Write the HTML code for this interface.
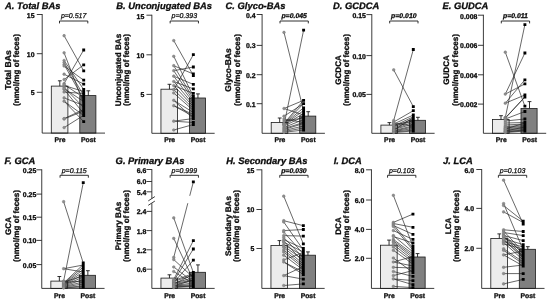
<!DOCTYPE html>
<html lang="en">
<head>
<meta charset="utf-8">
<title>Fecal bile acids Pre vs Post</title>
<style>
html,body{margin:0;padding:0;background:#fff;}
body{width:550px;height:302px;overflow:hidden;}
svg{display:block;}
text{font-family:"Liberation Sans",Arial,Helvetica,sans-serif;fill:#0d0d0d;stroke:#0d0d0d;stroke-width:0.3px;text-rendering:geometricPrecision;}
.ti{font-size:9.4px;font-weight:bold;font-style:italic;}
.yl{font-size:8.1px;font-weight:bold;text-anchor:middle;}
.tk{font-size:6.9px;font-weight:bold;text-anchor:end;}
.xl{font-size:6.8px;font-weight:bold;text-anchor:middle;}
.pv{font-size:7.0px;font-style:italic;text-anchor:middle;stroke-width:0.25px;}
.pvb{font-size:6.9px;font-style:italic;font-weight:bold;text-anchor:middle;}
.axl{fill:none;stroke:#1a1a1a;stroke-width:0.85;}
.ln{fill:none;stroke:#1a1a1a;stroke-width:0.9;}
.cl{fill:none;stroke:#222;stroke-width:0.68;}
.b1{fill:#ececec;stroke:#1a1a1a;stroke-width:0.8;}
.b2{fill:#808080;stroke:#1a1a1a;stroke-width:0.8;}
.gp{fill:#8e8e8e;stroke:#777;stroke-width:0.45;}
.kp{fill:#000;}
</style>
</head>
<body>
<svg width="550" height="302" viewBox="0 0 550 302" role="img" aria-label="Fecal bile acids before and after intervention">
<rect width="550" height="302" fill="#fff"/>
<g>
<text class="ti" x="5.1" y="9">A. Total BAs</text>
<text class="yl" style="font-size:8.6px" transform="translate(10.7 70) rotate(-90)">Total BAs</text>
<text class="yl" transform="translate(19.3 70) rotate(-90)">(nmol/mg of feces)</text>
<rect class="b1" x="51.3" y="86.1" width="16.6" height="47"/>
<rect class="b2" x="79.8" y="95.6" width="16.1" height="37.5"/>
<path class="ln" d="M59.8 86.1V80.8M57.9 80.8H61.7"/>
<path class="ln" d="M88.3 95.6V90.8M86.4 90.8H90.2"/>
<path class="axl" d="M42.2 14.05V133.1H105"/>
<path class="axl" d="M36.8 14.5H42.2M36.8 53.7H42.2M36.8 92.3H42.2"/>
<text class="tk" x="34.5" y="17.9">15</text>
<text class="tk" x="34.5" y="56.6">10</text>
<text class="tk" x="34.5" y="95.2">5</text>
<text class="xl" x="60" y="142.2">Pre</text>
<text class="xl" x="88.4" y="142.2">Post</text>
<path class="cl" d="M64.1 35.7L83.7 70.9M64.1 52.8L83.7 103.5M64.1 83.5L83.7 50M64.1 79.5L83.7 64.8M64.1 60.5L83.7 89.5M64.1 62.5L83.7 95.5M64.1 64.5L83.7 99.5M64.1 66L83.7 80.2M64.1 74.2L83.7 84.1M64.1 85.5L83.7 91.5M64.1 87.5L83.7 107.5M64.1 89.5L83.7 113.5M64.1 84.6L83.7 97.5M64.1 88.6L83.7 101.5M64.1 92L83.7 93.5M64.1 97.9L83.7 105.5M64.1 101.2L83.7 115.5M64.1 119L83.7 111M64.1 118.6L83.7 109.5M64.1 127.6L83.7 115.3M64.1 101.2L83.7 121.6"/>
<circle class="gp" cx="64.1" cy="35.7" r="1.35"/>
<circle class="gp" cx="64.1" cy="52.8" r="1.35"/>
<circle class="gp" cx="64.1" cy="83.5" r="1.35"/>
<circle class="gp" cx="64.1" cy="79.5" r="1.35"/>
<circle class="gp" cx="64.1" cy="60.5" r="1.35"/>
<circle class="gp" cx="64.1" cy="62.5" r="1.35"/>
<circle class="gp" cx="64.1" cy="64.5" r="1.35"/>
<circle class="gp" cx="64.1" cy="66" r="1.35"/>
<circle class="gp" cx="64.1" cy="74.2" r="1.35"/>
<circle class="gp" cx="64.1" cy="85.5" r="1.35"/>
<circle class="gp" cx="64.1" cy="87.5" r="1.35"/>
<circle class="gp" cx="64.1" cy="89.5" r="1.35"/>
<circle class="gp" cx="64.1" cy="84.6" r="1.35"/>
<circle class="gp" cx="64.1" cy="88.6" r="1.35"/>
<circle class="gp" cx="64.1" cy="92" r="1.35"/>
<circle class="gp" cx="64.1" cy="97.9" r="1.35"/>
<circle class="gp" cx="64.1" cy="101.2" r="1.35"/>
<circle class="gp" cx="64.1" cy="119" r="1.35"/>
<circle class="gp" cx="64.1" cy="118.6" r="1.35"/>
<circle class="gp" cx="64.1" cy="127.6" r="1.35"/>
<path class="kp" d="M82.25 69.5h2.9v2.8h-2.9zM82.25 102.1h2.9v2.8h-2.9zM82.25 48.6h2.9v2.8h-2.9zM82.25 63.4h2.9v2.8h-2.9zM82.25 88.1h2.9v2.8h-2.9zM82.25 94.1h2.9v2.8h-2.9zM82.25 98.1h2.9v2.8h-2.9zM82.25 78.8h2.9v2.8h-2.9zM82.25 82.7h2.9v2.8h-2.9zM82.25 90.1h2.9v2.8h-2.9zM82.25 106.1h2.9v2.8h-2.9zM82.25 112.1h2.9v2.8h-2.9zM82.25 96.1h2.9v2.8h-2.9zM82.25 100.1h2.9v2.8h-2.9zM82.25 92.1h2.9v2.8h-2.9zM82.25 104.1h2.9v2.8h-2.9zM82.25 114.1h2.9v2.8h-2.9zM82.25 109.6h2.9v2.8h-2.9zM82.25 108.1h2.9v2.8h-2.9zM82.25 113.9h2.9v2.8h-2.9zM82.25 120.2h2.9v2.8h-2.9z"/>
<path class="ln" d="M59.5 23.4V21H87.8V23.4"/>
<text class="pv" x="73.65" y="18">p=0.517</text>
</g>
<g>
<text class="ti" x="116.2" y="9">B. Unconjugated BAs</text>
<text class="yl" transform="translate(120.7 70) rotate(-90)">Unconjugated BAs</text>
<text class="yl" transform="translate(129.3 70) rotate(-90)">(nmol/mg of feces)</text>
<rect class="b1" x="160.95" y="89.2" width="16.6" height="44.1"/>
<rect class="b2" x="189.45" y="98" width="16.1" height="35.3"/>
<path class="ln" d="M169.45 89.2V84.3M167.55 84.3H171.35"/>
<path class="ln" d="M197.95 98V93.9M196.05 93.9H199.85"/>
<path class="axl" d="M151.85 14.75V133.3H214.65"/>
<path class="axl" d="M146.45 15.2H151.85M146.45 54.8H151.85M146.45 94.4H151.85"/>
<text class="tk" x="144.25" y="18.6">15</text>
<text class="tk" x="144.25" y="57.7">10</text>
<text class="tk" x="144.25" y="97.3">5</text>
<text class="xl" x="169.65" y="142.4">Pre</text>
<text class="xl" x="198.05" y="142.4">Post</text>
<path class="cl" d="M173.75 40.6L193.35 75.5M173.75 89.7L193.35 54.7M173.75 56.3L193.35 96.4M173.75 65.7L193.35 74M173.75 65.7L193.35 98.5M173.75 70.7L193.35 67M173.75 70.7L193.35 100.5M173.75 76.2L193.35 102.5M173.75 76.2L193.35 84.4M173.75 81.5L193.35 104.5M173.75 81.5L193.35 88.9M173.75 85.6L193.35 106.5M173.75 85.6L193.35 93.4M173.75 89.7L193.35 108.5M173.75 93L193.35 110.5M173.75 100.3L193.35 112.5M173.75 105.7L193.35 114.5M173.75 105.7L193.35 116.5M173.75 100.3L193.35 118.5M173.75 121.2L193.35 122.5M173.75 121.2L193.35 118.5M173.75 130L193.35 124.5"/>
<circle class="gp" cx="173.75" cy="40.6" r="1.35"/>
<circle class="gp" cx="173.75" cy="89.7" r="1.35"/>
<circle class="gp" cx="173.75" cy="56.3" r="1.35"/>
<circle class="gp" cx="173.75" cy="65.7" r="1.35"/>
<circle class="gp" cx="173.75" cy="70.7" r="1.35"/>
<circle class="gp" cx="173.75" cy="76.2" r="1.35"/>
<circle class="gp" cx="173.75" cy="81.5" r="1.35"/>
<circle class="gp" cx="173.75" cy="85.6" r="1.35"/>
<circle class="gp" cx="173.75" cy="93" r="1.35"/>
<circle class="gp" cx="173.75" cy="100.3" r="1.35"/>
<circle class="gp" cx="173.75" cy="105.7" r="1.35"/>
<circle class="gp" cx="173.75" cy="121.2" r="1.35"/>
<circle class="gp" cx="173.75" cy="130" r="1.35"/>
<path class="kp" d="M191.9 74.1h2.9v2.8h-2.9zM191.9 53.3h2.9v2.8h-2.9zM191.9 95h2.9v2.8h-2.9zM191.9 72.6h2.9v2.8h-2.9zM191.9 97.1h2.9v2.8h-2.9zM191.9 65.6h2.9v2.8h-2.9zM191.9 99.1h2.9v2.8h-2.9zM191.9 101.1h2.9v2.8h-2.9zM191.9 83h2.9v2.8h-2.9zM191.9 103.1h2.9v2.8h-2.9zM191.9 87.5h2.9v2.8h-2.9zM191.9 105.1h2.9v2.8h-2.9zM191.9 92h2.9v2.8h-2.9zM191.9 107.1h2.9v2.8h-2.9zM191.9 109.1h2.9v2.8h-2.9zM191.9 111.1h2.9v2.8h-2.9zM191.9 113.1h2.9v2.8h-2.9zM191.9 115.1h2.9v2.8h-2.9zM191.9 117.1h2.9v2.8h-2.9zM191.9 121.1h2.9v2.8h-2.9zM191.9 123.1h2.9v2.8h-2.9z"/>
<path class="ln" d="M170.15 23.4V21H198.45V23.4"/>
<text class="pv" x="184.3" y="18">p=0.393</text>
</g>
<g>
<text class="ti" x="225.6" y="9">C. Glyco-BAs</text>
<text class="yl" style="font-size:8.5px" transform="translate(231.2 70) rotate(-90)">Glyco-BAs</text>
<text class="yl" transform="translate(239.8 70) rotate(-90)">(nmol/mg of feces)</text>
<rect class="b1" x="271.2" y="122.4" width="16.6" height="10.9"/>
<rect class="b2" x="299.7" y="116.1" width="16.1" height="17.2"/>
<path class="ln" d="M279.7 122.4V118M277.8 118H281.6"/>
<path class="ln" d="M308.2 116.1V111.7M306.3 111.7H310.1"/>
<path class="axl" d="M262.1 14.05V133.3H324.9"/>
<path class="axl" d="M256.7 14.5H262.1M256.7 45.4H262.1M256.7 74.7H262.1M256.7 103.7H262.1"/>
<text class="tk" x="255.5" y="17.9">0.4</text>
<text class="tk" x="255.5" y="48.3">0.3</text>
<text class="tk" x="255.5" y="77.6">0.2</text>
<text class="tk" x="255.5" y="106.6">0.1</text>
<text class="xl" x="279.9" y="142.4">Pre</text>
<text class="xl" x="308.3" y="142.4">Post</text>
<path class="cl" d="M284 32.4L303.6 110.6M284 125L303.6 30.2M284 108.5L303.6 100.3M284 108.5L303.6 115M284 116.2L303.6 103.6M284 123.5L303.6 100.3M284 123.8L303.6 103.6M284 124L303.6 107.8M284 124.5L303.6 110.6M284 125L303.6 113.5M284 126L303.6 116.5M284 127.5L303.6 119.5M284 128.5L303.6 122.5M284 129.5L303.6 123.5M284 130.5L303.6 126M284 131.5L303.6 128M284 132.3L303.6 130M284 121L303.6 118M284 119L303.6 122.5"/>
<circle class="gp" cx="284" cy="32.4" r="1.35"/>
<circle class="gp" cx="284" cy="125" r="1.35"/>
<circle class="gp" cx="284" cy="108.5" r="1.35"/>
<circle class="gp" cx="284" cy="116.2" r="1.35"/>
<circle class="gp" cx="284" cy="123.5" r="1.35"/>
<circle class="gp" cx="284" cy="123.8" r="1.35"/>
<circle class="gp" cx="284" cy="124" r="1.35"/>
<circle class="gp" cx="284" cy="124.5" r="1.35"/>
<circle class="gp" cx="284" cy="126" r="1.35"/>
<circle class="gp" cx="284" cy="127.5" r="1.35"/>
<circle class="gp" cx="284" cy="128.5" r="1.35"/>
<circle class="gp" cx="284" cy="129.5" r="1.35"/>
<circle class="gp" cx="284" cy="130.5" r="1.35"/>
<circle class="gp" cx="284" cy="131.5" r="1.35"/>
<circle class="gp" cx="284" cy="132.3" r="1.35"/>
<circle class="gp" cx="284" cy="121" r="1.35"/>
<circle class="gp" cx="284" cy="119" r="1.35"/>
<path class="kp" d="M302.15 109.2h2.9v2.8h-2.9zM302.15 28.8h2.9v2.8h-2.9zM302.15 98.9h2.9v2.8h-2.9zM302.15 113.6h2.9v2.8h-2.9zM302.15 102.2h2.9v2.8h-2.9zM302.15 106.4h2.9v2.8h-2.9zM302.15 112.1h2.9v2.8h-2.9zM302.15 115.1h2.9v2.8h-2.9zM302.15 118.1h2.9v2.8h-2.9zM302.15 121.1h2.9v2.8h-2.9zM302.15 122.1h2.9v2.8h-2.9zM302.15 124.6h2.9v2.8h-2.9zM302.15 126.6h2.9v2.8h-2.9zM302.15 128.6h2.9v2.8h-2.9zM302.15 116.6h2.9v2.8h-2.9z"/>
<path class="ln" d="M280 23.4V21H308.3V23.4"/>
<text class="pvb" x="294.15" y="18">p=0.045</text>
</g>
<g>
<text class="ti" x="333" y="9">D. GCDCA</text>
<text class="yl" transform="translate(340.7 70) rotate(-90)">GCDCA</text>
<text class="yl" transform="translate(349.3 70) rotate(-90)">(nmol/mg of feces)</text>
<rect class="b1" x="380.9" y="125.1" width="16.6" height="8.2"/>
<rect class="b2" x="409.4" y="120.3" width="16.1" height="13"/>
<path class="ln" d="M389.4 125.1V122.6M387.5 122.6H391.3"/>
<path class="ln" d="M417.9 120.3V117.3M416 117.3H419.8"/>
<path class="axl" d="M371.8 14.15V133.3H434.6"/>
<path class="axl" d="M366.4 14.6H371.8M366.4 55.6H371.8M366.4 94.4H371.8"/>
<text class="tk" x="365.9" y="18">0.15</text>
<text class="tk" x="365.9" y="58.5">0.10</text>
<text class="tk" x="365.9" y="97.3">0.05</text>
<text class="xl" x="389.6" y="142.4">Pre</text>
<text class="xl" x="418" y="142.4">Post</text>
<path class="cl" d="M393.7 69.9L413.3 106.6M393.7 120.5L413.3 49.5M393.7 122L413.3 110.7M393.7 124L413.3 115M393.7 126L413.3 116.8M393.7 127L413.3 118.6M393.7 128L413.3 120.4M393.7 129L413.3 122.2M393.7 129.5L413.3 124M393.7 130.5L413.3 125.8M393.7 131L413.3 127M393.7 131.5L413.3 128.5M393.7 132L413.3 130M393.7 132.5L413.3 131M393.7 125L413.3 121M393.7 123L413.3 126M393.7 130.2L413.3 117.5"/>
<circle class="gp" cx="393.7" cy="69.9" r="1.35"/>
<circle class="gp" cx="393.7" cy="120.5" r="1.35"/>
<circle class="gp" cx="393.7" cy="122" r="1.35"/>
<circle class="gp" cx="393.7" cy="124" r="1.35"/>
<circle class="gp" cx="393.7" cy="126" r="1.35"/>
<circle class="gp" cx="393.7" cy="127" r="1.35"/>
<circle class="gp" cx="393.7" cy="128" r="1.35"/>
<circle class="gp" cx="393.7" cy="129" r="1.35"/>
<circle class="gp" cx="393.7" cy="129.5" r="1.35"/>
<circle class="gp" cx="393.7" cy="130.5" r="1.35"/>
<circle class="gp" cx="393.7" cy="131" r="1.35"/>
<circle class="gp" cx="393.7" cy="131.5" r="1.35"/>
<circle class="gp" cx="393.7" cy="132" r="1.35"/>
<circle class="gp" cx="393.7" cy="132.5" r="1.35"/>
<circle class="gp" cx="393.7" cy="125" r="1.35"/>
<circle class="gp" cx="393.7" cy="123" r="1.35"/>
<circle class="gp" cx="393.7" cy="130.2" r="1.35"/>
<path class="kp" d="M411.85 105.2h2.9v2.8h-2.9zM411.85 48.1h2.9v2.8h-2.9zM411.85 109.3h2.9v2.8h-2.9zM411.85 113.6h2.9v2.8h-2.9zM411.85 115.4h2.9v2.8h-2.9zM411.85 117.2h2.9v2.8h-2.9zM411.85 119h2.9v2.8h-2.9zM411.85 120.8h2.9v2.8h-2.9zM411.85 122.6h2.9v2.8h-2.9zM411.85 124.4h2.9v2.8h-2.9zM411.85 125.6h2.9v2.8h-2.9zM411.85 127.1h2.9v2.8h-2.9zM411.85 128.6h2.9v2.8h-2.9zM411.85 129.6h2.9v2.8h-2.9zM411.85 119.6h2.9v2.8h-2.9zM411.85 124.6h2.9v2.8h-2.9zM411.85 116.1h2.9v2.8h-2.9z"/>
<path class="ln" d="M389.7 23.4V21H418V23.4"/>
<text class="pvb" x="403.85" y="18">p=0.010</text>
</g>
<g>
<text class="ti" x="442.5" y="9">E. GUDCA</text>
<text class="yl" transform="translate(449.2 70) rotate(-90)">GUDCA</text>
<text class="yl" transform="translate(457.8 70) rotate(-90)">(nmol/mg of feces)</text>
<rect class="b1" x="492.5" y="119.5" width="16.6" height="13.8"/>
<rect class="b2" x="521" y="108.5" width="16.1" height="24.8"/>
<path class="ln" d="M501 119.5V115.7M499.1 115.7H502.9"/>
<path class="ln" d="M529.5 108.5V101.6M527.6 101.6H531.4"/>
<path class="axl" d="M483.4 14.75V133.3H546.2"/>
<path class="axl" d="M478 15.2H483.4M478 45.3H483.4M478 74.8H483.4M478 104.1H483.4"/>
<text class="tk" x="477.3" y="18.6">0.008</text>
<text class="tk" x="477.3" y="48.2">0.006</text>
<text class="tk" x="477.3" y="77.7">0.004</text>
<text class="tk" x="477.3" y="107">0.002</text>
<text class="xl" x="501.2" y="142.4">Pre</text>
<text class="xl" x="529.6" y="142.4">Post</text>
<path class="cl" d="M505.3 52.2L524.9 106.2M505.3 117.5L524.9 24.6M505.3 94.1L524.9 53M505.3 94.1L524.9 83.9M505.3 103.2L524.9 79.8M505.3 103.2L524.9 95M505.3 117.8L524.9 97.2M505.3 118.3L524.9 96.8M505.3 119L524.9 111.5M505.3 121L524.9 119M505.3 123L524.9 122.5M505.3 125L524.9 124M505.3 126.5L524.9 125.5M505.3 127.5L524.9 126.5M505.3 128.5L524.9 127.5M505.3 129.5L524.9 128.5M505.3 130.5L524.9 129.5M505.3 131.5L524.9 130M505.3 132L524.9 130.5M505.3 132.5L524.9 131M505.3 129L524.9 123M505.3 131L524.9 127"/>
<circle class="gp" cx="505.3" cy="52.2" r="1.35"/>
<circle class="gp" cx="505.3" cy="117.5" r="1.35"/>
<circle class="gp" cx="505.3" cy="94.1" r="1.35"/>
<circle class="gp" cx="505.3" cy="103.2" r="1.35"/>
<circle class="gp" cx="505.3" cy="117.8" r="1.35"/>
<circle class="gp" cx="505.3" cy="118.3" r="1.35"/>
<circle class="gp" cx="505.3" cy="119" r="1.35"/>
<circle class="gp" cx="505.3" cy="121" r="1.35"/>
<circle class="gp" cx="505.3" cy="123" r="1.35"/>
<circle class="gp" cx="505.3" cy="125" r="1.35"/>
<circle class="gp" cx="505.3" cy="126.5" r="1.35"/>
<circle class="gp" cx="505.3" cy="127.5" r="1.35"/>
<circle class="gp" cx="505.3" cy="128.5" r="1.35"/>
<circle class="gp" cx="505.3" cy="129.5" r="1.35"/>
<circle class="gp" cx="505.3" cy="130.5" r="1.35"/>
<circle class="gp" cx="505.3" cy="131.5" r="1.35"/>
<circle class="gp" cx="505.3" cy="132" r="1.35"/>
<circle class="gp" cx="505.3" cy="132.5" r="1.35"/>
<circle class="gp" cx="505.3" cy="129" r="1.35"/>
<circle class="gp" cx="505.3" cy="131" r="1.35"/>
<path class="kp" d="M523.45 104.8h2.9v2.8h-2.9zM523.45 23.2h2.9v2.8h-2.9zM523.45 51.6h2.9v2.8h-2.9zM523.45 82.5h2.9v2.8h-2.9zM523.45 78.4h2.9v2.8h-2.9zM523.45 93.6h2.9v2.8h-2.9zM523.45 95.8h2.9v2.8h-2.9zM523.45 95.4h2.9v2.8h-2.9zM523.45 110.1h2.9v2.8h-2.9zM523.45 117.6h2.9v2.8h-2.9zM523.45 121.1h2.9v2.8h-2.9zM523.45 122.6h2.9v2.8h-2.9zM523.45 124.1h2.9v2.8h-2.9zM523.45 125.1h2.9v2.8h-2.9zM523.45 126.1h2.9v2.8h-2.9zM523.45 127.1h2.9v2.8h-2.9zM523.45 128.1h2.9v2.8h-2.9zM523.45 128.6h2.9v2.8h-2.9zM523.45 129.1h2.9v2.8h-2.9zM523.45 129.6h2.9v2.8h-2.9zM523.45 121.6h2.9v2.8h-2.9zM523.45 125.6h2.9v2.8h-2.9z"/>
<path class="ln" d="M501.3 23.4V21H529.6V23.4"/>
<text class="pvb" x="515.45" y="18">p=0.011</text>
</g>
<g>
<text class="ti" x="4.6" y="164">F. GCA</text>
<text class="yl" transform="translate(10.7 226) rotate(-90)">GCA</text>
<text class="yl" transform="translate(19.3 226) rotate(-90)">(nmol/mg of feces)</text>
<rect class="b1" x="50.85" y="281.1" width="16.6" height="7.3"/>
<rect class="b2" x="79.35" y="275.3" width="16.1" height="13.1"/>
<path class="ln" d="M59.35 281.1V276.5M57.45 276.5H61.25"/>
<path class="ln" d="M87.85 275.3V270.7M85.95 270.7H89.75"/>
<path class="axl" d="M41.75 169.35V288.4H104.55"/>
<path class="axl" d="M36.35 169.8H41.75M36.35 194.1H41.75M36.35 217.2H41.75M36.35 240.4H41.75M36.35 264.6H41.75"/>
<text class="tk" x="36.25" y="173.2">0.25</text>
<text class="tk" x="36.25" y="197">0.25</text>
<text class="tk" x="36.25" y="220.1">0.15</text>
<text class="tk" x="36.25" y="243.3">0.10</text>
<text class="tk" x="36.25" y="267.5">0.05</text>
<text class="xl" x="59.55" y="297.5">Pre</text>
<text class="xl" x="87.95" y="297.5">Post</text>
<path class="cl" d="M63.65 201.7L83.25 263M63.65 281L83.25 182.7M63.65 268.7L83.25 265M63.65 268.7L83.25 272M63.65 283L83.25 264.5M63.65 283.5L83.25 267M63.65 284L83.25 269.5M63.65 284.5L83.25 272M63.65 285L83.25 274.5M63.65 285.5L83.25 277M63.65 286L83.25 279.5M63.65 286.5L83.25 282M63.65 287L83.25 284M63.65 287.5L83.25 286M63.65 287.8L83.25 287M63.65 282L83.25 276M63.65 282.5L83.25 281"/>
<circle class="gp" cx="63.65" cy="201.7" r="1.35"/>
<circle class="gp" cx="63.65" cy="281" r="1.35"/>
<circle class="gp" cx="63.65" cy="268.7" r="1.35"/>
<circle class="gp" cx="63.65" cy="283" r="1.35"/>
<circle class="gp" cx="63.65" cy="283.5" r="1.35"/>
<circle class="gp" cx="63.65" cy="284" r="1.35"/>
<circle class="gp" cx="63.65" cy="284.5" r="1.35"/>
<circle class="gp" cx="63.65" cy="285" r="1.35"/>
<circle class="gp" cx="63.65" cy="285.5" r="1.35"/>
<circle class="gp" cx="63.65" cy="286" r="1.35"/>
<circle class="gp" cx="63.65" cy="286.5" r="1.35"/>
<circle class="gp" cx="63.65" cy="287" r="1.35"/>
<circle class="gp" cx="63.65" cy="287.5" r="1.35"/>
<circle class="gp" cx="63.65" cy="287.8" r="1.35"/>
<circle class="gp" cx="63.65" cy="282" r="1.35"/>
<circle class="gp" cx="63.65" cy="282.5" r="1.35"/>
<path class="kp" d="M81.8 261.6h2.9v2.8h-2.9zM81.8 181.3h2.9v2.8h-2.9zM81.8 263.6h2.9v2.8h-2.9zM81.8 270.6h2.9v2.8h-2.9zM81.8 263.1h2.9v2.8h-2.9zM81.8 265.6h2.9v2.8h-2.9zM81.8 268.1h2.9v2.8h-2.9zM81.8 273.1h2.9v2.8h-2.9zM81.8 275.6h2.9v2.8h-2.9zM81.8 278.1h2.9v2.8h-2.9zM81.8 280.6h2.9v2.8h-2.9zM81.8 282.6h2.9v2.8h-2.9zM81.8 284.6h2.9v2.8h-2.9zM81.8 285.6h2.9v2.8h-2.9zM81.8 274.6h2.9v2.8h-2.9zM81.8 279.6h2.9v2.8h-2.9z"/>
<path class="ln" d="M60.05 177.7V175.3H88.35V177.7"/>
<text class="pv" x="74.2" y="173">p=0.115</text>
</g>
<g>
<text class="ti" x="115.6" y="164">G. Primary BAs</text>
<text class="yl" transform="translate(120.7 226) rotate(-90)">Primary BAs</text>
<text class="yl" transform="translate(129.3 226) rotate(-90)">(nmol/mg of feces)</text>
<rect class="b1" x="160.95" y="278.1" width="16.6" height="10.3"/>
<rect class="b2" x="189.45" y="272.3" width="16.1" height="16.1"/>
<path class="ln" d="M169.45 278.1V274.8M167.55 274.8H171.35"/>
<path class="ln" d="M197.95 272.3V264.9M196.05 264.9H199.85"/>
<path class="axl" d="M151.85 169.1V198.6M151.85 203.3V288.4H214.65"/>
<path class="axl" d="M148.25 200.9L154.85 196.6M148.25 205.3L154.85 201.1"/>
<path class="axl" d="M146.45 169.5H151.85M146.45 181.5H151.85M146.45 191.8H151.85M146.45 211.4H151.85M146.45 230.6H151.85M146.45 249.8H151.85M146.45 269.2H151.85"/>
<text class="tk" x="146.35" y="172.9">6.6</text>
<text class="tk" x="146.35" y="184.4">6.0</text>
<text class="tk" x="146.35" y="194.7">5.4</text>
<text class="tk" x="146.35" y="214.3">2.4</text>
<text class="tk" x="146.35" y="233.5">1.8</text>
<text class="tk" x="146.35" y="252.7">1.2</text>
<text class="tk" x="146.35" y="272.1">0.6</text>
<text class="xl" x="169.65" y="297.5">Pre</text>
<text class="xl" x="198.05" y="297.5">Post</text>
<path class="cl" d="M173.75 257.4L187.82 203.2M189.74 195.8L193.35 181.9M173.75 217.9L193.35 272.5M173.75 238.4L193.35 280M173.75 279.5L193.35 240.6M173.75 281L193.35 249M173.75 282.5L193.35 260.2M173.75 259.6L193.35 277.5M173.75 267L193.35 282M173.75 271.5L193.35 284M173.75 280.5L193.35 273.5M173.75 281.5L193.35 275M173.75 283L193.35 278M173.75 283.5L193.35 280M173.75 284.5L193.35 281M173.75 285.5L193.35 283M173.75 286L193.35 284.5M173.75 286.5L193.35 285.5M173.75 287L193.35 286M173.75 287.5L193.35 286.5M173.75 284L193.35 274.5M173.75 286.2L193.35 279.5"/>
<circle class="gp" cx="173.75" cy="257.4" r="1.35"/>
<circle class="gp" cx="173.75" cy="217.9" r="1.35"/>
<circle class="gp" cx="173.75" cy="238.4" r="1.35"/>
<circle class="gp" cx="173.75" cy="279.5" r="1.35"/>
<circle class="gp" cx="173.75" cy="281" r="1.35"/>
<circle class="gp" cx="173.75" cy="282.5" r="1.35"/>
<circle class="gp" cx="173.75" cy="259.6" r="1.35"/>
<circle class="gp" cx="173.75" cy="267" r="1.35"/>
<circle class="gp" cx="173.75" cy="271.5" r="1.35"/>
<circle class="gp" cx="173.75" cy="280.5" r="1.35"/>
<circle class="gp" cx="173.75" cy="281.5" r="1.35"/>
<circle class="gp" cx="173.75" cy="283" r="1.35"/>
<circle class="gp" cx="173.75" cy="283.5" r="1.35"/>
<circle class="gp" cx="173.75" cy="284.5" r="1.35"/>
<circle class="gp" cx="173.75" cy="285.5" r="1.35"/>
<circle class="gp" cx="173.75" cy="286" r="1.35"/>
<circle class="gp" cx="173.75" cy="286.5" r="1.35"/>
<circle class="gp" cx="173.75" cy="287" r="1.35"/>
<circle class="gp" cx="173.75" cy="287.5" r="1.35"/>
<circle class="gp" cx="173.75" cy="284" r="1.35"/>
<circle class="gp" cx="173.75" cy="286.2" r="1.35"/>
<path class="kp" d="M191.9 180.5h2.9v2.8h-2.9zM191.9 271.1h2.9v2.8h-2.9zM191.9 278.6h2.9v2.8h-2.9zM191.9 239.2h2.9v2.8h-2.9zM191.9 247.6h2.9v2.8h-2.9zM191.9 258.8h2.9v2.8h-2.9zM191.9 276.1h2.9v2.8h-2.9zM191.9 280.6h2.9v2.8h-2.9zM191.9 282.6h2.9v2.8h-2.9zM191.9 272.1h2.9v2.8h-2.9zM191.9 273.6h2.9v2.8h-2.9zM191.9 276.6h2.9v2.8h-2.9zM191.9 279.6h2.9v2.8h-2.9zM191.9 281.6h2.9v2.8h-2.9zM191.9 283.1h2.9v2.8h-2.9zM191.9 284.1h2.9v2.8h-2.9zM191.9 284.6h2.9v2.8h-2.9zM191.9 285.1h2.9v2.8h-2.9zM191.9 273.1h2.9v2.8h-2.9zM191.9 278.1h2.9v2.8h-2.9z"/>
<path class="ln" d="M170.15 177.7V175.3H198.45V177.7"/>
<text class="pv" x="184.3" y="173">p=0.999</text>
</g>
<g>
<text class="ti" x="226.2" y="164">H. Secondary BAs</text>
<text class="yl" transform="translate(230.7 226) rotate(-90)">Secondary BAs</text>
<text class="yl" transform="translate(239.3 226) rotate(-90)">(nmol/mg of feces)</text>
<rect class="b1" x="270.95" y="245.4" width="16.6" height="43"/>
<rect class="b2" x="299.45" y="255.2" width="16.1" height="33.2"/>
<path class="ln" d="M279.45 245.4V240.6M277.55 240.6H281.35"/>
<path class="ln" d="M307.95 255.2V251.9M306.05 251.9H309.85"/>
<path class="axl" d="M261.85 169.35V288.4H324.65"/>
<path class="axl" d="M256.45 169.8H261.85M256.45 209.5H261.85M256.45 248.5H261.85"/>
<text class="tk" x="254.45" y="173.2">15</text>
<text class="tk" x="254.45" y="212.4">10</text>
<text class="tk" x="254.45" y="251.4">5</text>
<text class="xl" x="279.65" y="297.5">Pre</text>
<text class="xl" x="308.05" y="297.5">Post</text>
<path class="cl" d="M283.75 196.2L303.35 243.9M283.75 220.7L303.35 225.7M283.75 222L303.35 250M283.75 230.6L303.35 229.5M283.75 232L303.35 254M283.75 235.6L303.35 236.1M283.75 237.5L303.35 258M283.75 239.7L303.35 248.5M283.75 241L303.35 262M283.75 242.2L303.35 252M283.75 244.5L303.35 256M283.75 246L303.35 260M283.75 247.5L303.35 264M283.75 250L303.35 266M283.75 252L303.35 268M283.75 255.2L303.35 270M283.75 259.9L303.35 252.5M283.75 262L303.35 272M283.75 262L303.35 274.5M283.75 275.6L303.35 279.2M283.75 275.6L303.35 266.5M283.75 285.5L303.35 283.9"/>
<circle class="gp" cx="283.75" cy="196.2" r="1.35"/>
<circle class="gp" cx="283.75" cy="220.7" r="1.35"/>
<circle class="gp" cx="283.75" cy="222" r="1.35"/>
<circle class="gp" cx="283.75" cy="230.6" r="1.35"/>
<circle class="gp" cx="283.75" cy="232" r="1.35"/>
<circle class="gp" cx="283.75" cy="235.6" r="1.35"/>
<circle class="gp" cx="283.75" cy="237.5" r="1.35"/>
<circle class="gp" cx="283.75" cy="239.7" r="1.35"/>
<circle class="gp" cx="283.75" cy="241" r="1.35"/>
<circle class="gp" cx="283.75" cy="242.2" r="1.35"/>
<circle class="gp" cx="283.75" cy="244.5" r="1.35"/>
<circle class="gp" cx="283.75" cy="246" r="1.35"/>
<circle class="gp" cx="283.75" cy="247.5" r="1.35"/>
<circle class="gp" cx="283.75" cy="250" r="1.35"/>
<circle class="gp" cx="283.75" cy="252" r="1.35"/>
<circle class="gp" cx="283.75" cy="255.2" r="1.35"/>
<circle class="gp" cx="283.75" cy="259.9" r="1.35"/>
<circle class="gp" cx="283.75" cy="262" r="1.35"/>
<circle class="gp" cx="283.75" cy="275.6" r="1.35"/>
<circle class="gp" cx="283.75" cy="285.5" r="1.35"/>
<path class="kp" d="M301.9 242.5h2.9v2.8h-2.9zM301.9 224.3h2.9v2.8h-2.9zM301.9 248.6h2.9v2.8h-2.9zM301.9 228.1h2.9v2.8h-2.9zM301.9 252.6h2.9v2.8h-2.9zM301.9 234.7h2.9v2.8h-2.9zM301.9 256.6h2.9v2.8h-2.9zM301.9 247.1h2.9v2.8h-2.9zM301.9 260.6h2.9v2.8h-2.9zM301.9 250.6h2.9v2.8h-2.9zM301.9 254.6h2.9v2.8h-2.9zM301.9 258.6h2.9v2.8h-2.9zM301.9 262.6h2.9v2.8h-2.9zM301.9 264.6h2.9v2.8h-2.9zM301.9 266.6h2.9v2.8h-2.9zM301.9 268.6h2.9v2.8h-2.9zM301.9 251.1h2.9v2.8h-2.9zM301.9 270.6h2.9v2.8h-2.9zM301.9 273.1h2.9v2.8h-2.9zM301.9 277.8h2.9v2.8h-2.9zM301.9 265.1h2.9v2.8h-2.9zM301.9 282.5h2.9v2.8h-2.9z"/>
<path class="ln" d="M279.75 177.7V175.3H308.05V177.7"/>
<text class="pvb" x="293.9" y="173">p=0.030</text>
</g>
<g>
<text class="ti" x="333.7" y="164">I. DCA</text>
<text class="yl" transform="translate(340.7 226) rotate(-90)">DCA</text>
<text class="yl" transform="translate(349.3 226) rotate(-90)">(nmol/mg of feces)</text>
<rect class="b1" x="380.55" y="245.2" width="16.6" height="43.2"/>
<rect class="b2" x="409.05" y="257" width="16.1" height="31.4"/>
<path class="ln" d="M389.05 245.2V240.1M387.15 240.1H390.95"/>
<path class="ln" d="M417.55 257V253.6M415.65 253.6H419.45"/>
<path class="axl" d="M371.45 169.35V288.4H434.25"/>
<path class="axl" d="M366.05 169.8H371.45M366.05 200H371.45M366.05 229.4H371.45M366.05 258.3H371.45"/>
<text class="tk" x="364.25" y="173.2">8.0</text>
<text class="tk" x="364.25" y="202.9">6.0</text>
<text class="tk" x="364.25" y="232.3">4.0</text>
<text class="tk" x="364.25" y="261.2">2.0</text>
<text class="xl" x="389.25" y="297.5">Pre</text>
<text class="xl" x="417.65" y="297.5">Post</text>
<path class="cl" d="M393.35 195.3L412.95 246.4M393.35 222.4L412.95 214.1M393.35 223.5L412.95 227.3M393.35 224.5L412.95 248M393.35 225.5L412.95 234.3M393.35 226.5L412.95 250M393.35 230.6L412.95 239.4M393.35 235.6L412.95 252M393.35 239.4L412.95 254M393.35 240.8L412.95 256M393.35 242.2L412.95 258M393.35 244.5L412.95 260M393.35 247L412.95 262M393.35 250.3L412.95 264M393.35 262L412.95 256.5M393.35 262L412.95 266M393.35 267.3L412.95 268M393.35 271.5L412.95 276.4M393.35 275.6L412.95 270.5M393.35 278.9L412.95 280.6M393.35 278.9L412.95 284.7M393.35 286.4L412.95 287.6M393.35 258L412.95 272.5M393.35 236.5L412.95 243"/>
<circle class="gp" cx="393.35" cy="195.3" r="1.35"/>
<circle class="gp" cx="393.35" cy="222.4" r="1.35"/>
<circle class="gp" cx="393.35" cy="223.5" r="1.35"/>
<circle class="gp" cx="393.35" cy="224.5" r="1.35"/>
<circle class="gp" cx="393.35" cy="225.5" r="1.35"/>
<circle class="gp" cx="393.35" cy="226.5" r="1.35"/>
<circle class="gp" cx="393.35" cy="230.6" r="1.35"/>
<circle class="gp" cx="393.35" cy="235.6" r="1.35"/>
<circle class="gp" cx="393.35" cy="239.4" r="1.35"/>
<circle class="gp" cx="393.35" cy="240.8" r="1.35"/>
<circle class="gp" cx="393.35" cy="242.2" r="1.35"/>
<circle class="gp" cx="393.35" cy="244.5" r="1.35"/>
<circle class="gp" cx="393.35" cy="247" r="1.35"/>
<circle class="gp" cx="393.35" cy="250.3" r="1.35"/>
<circle class="gp" cx="393.35" cy="262" r="1.35"/>
<circle class="gp" cx="393.35" cy="267.3" r="1.35"/>
<circle class="gp" cx="393.35" cy="271.5" r="1.35"/>
<circle class="gp" cx="393.35" cy="275.6" r="1.35"/>
<circle class="gp" cx="393.35" cy="278.9" r="1.35"/>
<circle class="gp" cx="393.35" cy="286.4" r="1.35"/>
<circle class="gp" cx="393.35" cy="258" r="1.35"/>
<circle class="gp" cx="393.35" cy="236.5" r="1.35"/>
<path class="kp" d="M411.5 245h2.9v2.8h-2.9zM411.5 212.7h2.9v2.8h-2.9zM411.5 225.9h2.9v2.8h-2.9zM411.5 246.6h2.9v2.8h-2.9zM411.5 232.9h2.9v2.8h-2.9zM411.5 248.6h2.9v2.8h-2.9zM411.5 238h2.9v2.8h-2.9zM411.5 250.6h2.9v2.8h-2.9zM411.5 252.6h2.9v2.8h-2.9zM411.5 254.6h2.9v2.8h-2.9zM411.5 256.6h2.9v2.8h-2.9zM411.5 258.6h2.9v2.8h-2.9zM411.5 260.6h2.9v2.8h-2.9zM411.5 262.6h2.9v2.8h-2.9zM411.5 255.1h2.9v2.8h-2.9zM411.5 264.6h2.9v2.8h-2.9zM411.5 266.6h2.9v2.8h-2.9zM411.5 275h2.9v2.8h-2.9zM411.5 269.1h2.9v2.8h-2.9zM411.5 279.2h2.9v2.8h-2.9zM411.5 283.3h2.9v2.8h-2.9zM411.5 286.2h2.9v2.8h-2.9zM411.5 271.1h2.9v2.8h-2.9zM411.5 241.6h2.9v2.8h-2.9z"/>
<path class="ln" d="M387.55 177.7V175.3H415.85V177.7"/>
<text class="pv" x="401.7" y="173">p=0.103</text>
</g>
<g>
<text class="ti" x="443" y="164">J. LCA</text>
<text class="yl" transform="translate(450.7 226) rotate(-90)">LCA</text>
<text class="yl" transform="translate(459.3 226) rotate(-90)">(nmol/mg of feces)</text>
<rect class="b1" x="490.8" y="238.4" width="16.6" height="50"/>
<rect class="b2" x="519.3" y="249.3" width="16.1" height="39.1"/>
<path class="ln" d="M499.3 238.4V233.9M497.4 233.9H501.2"/>
<path class="ln" d="M527.8 249.3V246.7M525.9 246.7H529.7"/>
<path class="axl" d="M481.7 169.05V288.4H544.5"/>
<path class="axl" d="M476.3 169.5H481.7M476.3 208.4H481.7M476.3 248.3H481.7"/>
<text class="tk" x="474" y="172.9">6.0</text>
<text class="tk" x="474" y="211.3">4.0</text>
<text class="tk" x="474" y="251.2">2.0</text>
<text class="xl" x="499.5" y="297.5">Pre</text>
<text class="xl" x="527.9" y="297.5">Post</text>
<path class="cl" d="M503.6 180.2L523.2 224M503.6 203.6L523.2 250M503.6 205.5L523.2 221.2M503.6 211.9L523.2 222.5M503.6 229.8L523.2 231.5M503.6 231L523.2 252M503.6 232.5L523.2 235.6M503.6 234L523.2 254M503.6 235.5L523.2 240.6M503.6 237L523.2 256M503.6 238.5L523.2 244.7M503.6 240L523.2 258M503.6 241.5L523.2 247M503.6 242.5L523.2 260M503.6 243.9L523.2 249M503.6 248.8L523.2 262M503.6 250.3L523.2 264M503.6 254.9L523.2 266M503.6 254.9L523.2 251M503.6 267.3L523.2 265M503.6 273.6L523.2 273.6M503.6 283.9L523.2 279.4M503.6 236.2L523.2 253M503.6 239.2L523.2 257"/>
<circle class="gp" cx="503.6" cy="180.2" r="1.35"/>
<circle class="gp" cx="503.6" cy="203.6" r="1.35"/>
<circle class="gp" cx="503.6" cy="205.5" r="1.35"/>
<circle class="gp" cx="503.6" cy="211.9" r="1.35"/>
<circle class="gp" cx="503.6" cy="229.8" r="1.35"/>
<circle class="gp" cx="503.6" cy="231" r="1.35"/>
<circle class="gp" cx="503.6" cy="232.5" r="1.35"/>
<circle class="gp" cx="503.6" cy="234" r="1.35"/>
<circle class="gp" cx="503.6" cy="235.5" r="1.35"/>
<circle class="gp" cx="503.6" cy="237" r="1.35"/>
<circle class="gp" cx="503.6" cy="238.5" r="1.35"/>
<circle class="gp" cx="503.6" cy="240" r="1.35"/>
<circle class="gp" cx="503.6" cy="241.5" r="1.35"/>
<circle class="gp" cx="503.6" cy="242.5" r="1.35"/>
<circle class="gp" cx="503.6" cy="243.9" r="1.35"/>
<circle class="gp" cx="503.6" cy="248.8" r="1.35"/>
<circle class="gp" cx="503.6" cy="250.3" r="1.35"/>
<circle class="gp" cx="503.6" cy="254.9" r="1.35"/>
<circle class="gp" cx="503.6" cy="267.3" r="1.35"/>
<circle class="gp" cx="503.6" cy="273.6" r="1.35"/>
<circle class="gp" cx="503.6" cy="283.9" r="1.35"/>
<circle class="gp" cx="503.6" cy="236.2" r="1.35"/>
<circle class="gp" cx="503.6" cy="239.2" r="1.35"/>
<path class="kp" d="M521.75 222.6h2.9v2.8h-2.9zM521.75 248.6h2.9v2.8h-2.9zM521.75 219.8h2.9v2.8h-2.9zM521.75 221.1h2.9v2.8h-2.9zM521.75 230.1h2.9v2.8h-2.9zM521.75 250.6h2.9v2.8h-2.9zM521.75 234.2h2.9v2.8h-2.9zM521.75 252.6h2.9v2.8h-2.9zM521.75 239.2h2.9v2.8h-2.9zM521.75 254.6h2.9v2.8h-2.9zM521.75 243.3h2.9v2.8h-2.9zM521.75 256.6h2.9v2.8h-2.9zM521.75 245.6h2.9v2.8h-2.9zM521.75 258.6h2.9v2.8h-2.9zM521.75 247.6h2.9v2.8h-2.9zM521.75 260.6h2.9v2.8h-2.9zM521.75 262.6h2.9v2.8h-2.9zM521.75 264.6h2.9v2.8h-2.9zM521.75 249.6h2.9v2.8h-2.9zM521.75 263.6h2.9v2.8h-2.9zM521.75 272.2h2.9v2.8h-2.9zM521.75 278h2.9v2.8h-2.9zM521.75 251.6h2.9v2.8h-2.9zM521.75 255.6h2.9v2.8h-2.9z"/>
<path class="ln" d="M498.4 177.7V175.3H526.7V177.7"/>
<text class="pv" x="512.55" y="173">p=0.103</text>
</g>
</svg>
</body>
</html>
